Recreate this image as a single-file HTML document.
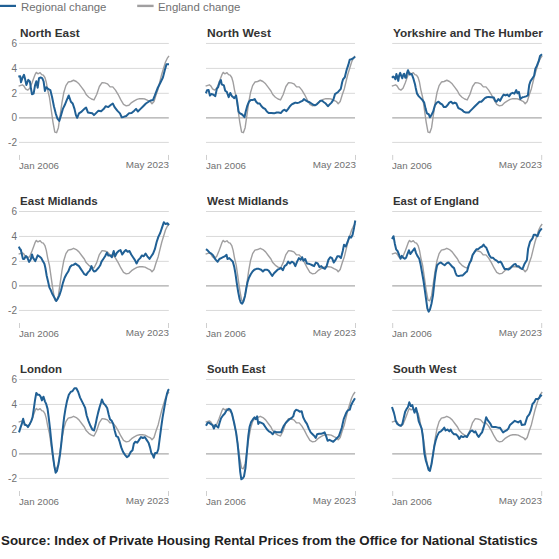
<!DOCTYPE html>
<html><head><meta charset="utf-8"><style>
html,body{margin:0;padding:0;background:#fff;width:559px;height:559px;overflow:hidden;position:relative;font-family:"Liberation Sans",sans-serif;}
svg{position:absolute;left:0;top:0}
.t{position:absolute;font-size:11px;font-weight:bold;color:#333;line-height:13px;white-space:nowrap;transform:scaleX(1.078);transform-origin:0 0}
.xl{position:absolute;font-size:9.4px;color:#707071;line-height:11px;white-space:nowrap;transform:scaleX(1.05);transform-origin:0 0}
.xj{transform:scaleX(1.035)}
.xr{width:100px;text-align:right;transform-origin:100% 0}
.yl{position:absolute;left:0;width:17px;text-align:right;font-size:10px;color:#707071;line-height:11px}
.lg{position:absolute;top:1px;font-size:11px;color:#707071;line-height:12px;white-space:nowrap;transform:scaleX(1.035);transform-origin:0 0}
.src{position:absolute;left:1px;top:534px;font-size:12.7px;font-weight:bold;color:#222;line-height:15px;white-space:nowrap;transform:scaleX(1.05);transform-origin:0 0}
</style></head><body>
<svg width="559" height="559" viewBox="0 0 559 559">
<line x1="0" y1="5.9" x2="16" y2="5.9" stroke="#206095" stroke-width="2.2"/>
<line x1="137.2" y1="5.9" x2="153.6" y2="5.9" stroke="#a09fa0" stroke-width="2.4"/>
<line x1="19.0" y1="43.45" x2="168.8" y2="43.45" stroke="#d9d9d9" stroke-width="1"/>
<line x1="19.0" y1="68.40" x2="168.8" y2="68.40" stroke="#d9d9d9" stroke-width="1"/>
<line x1="19.0" y1="93.30" x2="168.8" y2="93.30" stroke="#d9d9d9" stroke-width="1"/>
<line x1="19.0" y1="142.40" x2="168.8" y2="142.40" stroke="#d9d9d9" stroke-width="1"/>
<line x1="19.0" y1="117.90" x2="168.8" y2="117.90" stroke="#aaaaaa" stroke-width="1.3"/>
<line x1="19.5" y1="154.95" x2="19.5" y2="159.95" stroke="#cfcfcf" stroke-width="1"/>
<line x1="168.5" y1="154.95" x2="168.5" y2="159.95" stroke="#cfcfcf" stroke-width="1"/>
<polyline fill="none" stroke="#a09fa0" stroke-width="1.4" stroke-linejoin="round" points="18.60,86.10 22.40,84.80 24.00,86.10 25.60,88.80 27.70,90.10 29.80,88.30 32.00,82.90 33.60,78.60 35.20,74.30 36.30,72.40 37.90,73.80 40.10,72.70 41.70,74.60 43.30,75.10 44.90,77.50 46.30,82.30 47.70,90.05 49.43,97.25 51.22,109.77 53.01,122.29 54.80,132.13 56.59,132.67 58.38,127.66 60.17,115.13 61.96,102.61 63.75,92.77 65.90,85.62 68.22,82.04 70.91,81.50 73.59,80.25 76.28,81.50 78.96,83.83 81.65,87.41 84.33,90.98 86.12,94.56 88.81,97.25 91.49,99.03 94.00,99.93 96.68,94.56 99.37,86.51 102.05,82.58 104.74,82.93 107.42,83.83 110.11,86.87 112.79,86.87 115.48,90.09 118.16,94.56 120.85,99.93 123.53,104.40 126.22,105.83 128.90,105.30 131.59,102.61 134.27,100.82 136.96,99.39 139.64,98.68 142.33,98.68 145.01,99.03 147.70,100.47 150.38,101.72 152.00,103.75 154.00,101.45 156.00,94.95 158.20,88.65 160.10,80.75 161.80,73.95 163.50,68.45 165.50,61.95 167.20,58.45 169.00,55.95"/>
<polyline fill="none" stroke="#206095" stroke-width="2.0" stroke-linejoin="round" points="18.30,76.40 20.20,76.20 21.00,82.30 22.40,78.10 24.00,74.80 25.10,79.10 26.40,85.00 28.30,79.90 29.90,81.50 31.00,88.80 32.00,94.20 33.60,93.60 35.00,85.60 36.30,81.30 37.70,87.70 39.00,78.10 40.60,77.50 42.20,78.10 43.60,81.30 44.90,90.90 46.30,87.20 48.53,89.19 50.32,90.09 52.11,97.25 53.90,106.19 55.69,113.35 57.48,118.71 59.27,120.86 61.06,115.13 62.85,108.87 64.64,105.30 66.43,100.82 68.76,95.46 70.91,101.72 72.70,103.51 74.49,108.87 75.92,115.13 77.17,117.82 78.96,113.35 81.65,111.56 84.33,108.87 86.12,107.62 87.91,112.45 90.60,112.99 92.39,113.35 94.00,115.13 95.79,113.35 98.47,110.66 101.16,111.20 103.84,108.87 105.63,106.19 108.32,107.08 111.00,104.76 112.79,103.51 114.58,107.08 117.27,110.66 119.95,113.35 121.74,117.28 123.53,116.92 126.22,116.03 128.90,113.35 131.59,112.99 134.27,110.66 136.06,108.87 137.85,111.56 140.54,108.87 143.22,106.19 145.91,103.51 148.59,101.72 150.92,100.47 153.07,99.93 154.86,95.46 157.54,88.30 160.23,82.93 162.91,77.57 164.70,70.41 166.49,64.15 169.00,64.15"/>
<line x1="206.0" y1="43.45" x2="355.0" y2="43.45" stroke="#d9d9d9" stroke-width="1"/>
<line x1="206.0" y1="68.40" x2="355.0" y2="68.40" stroke="#d9d9d9" stroke-width="1"/>
<line x1="206.0" y1="93.30" x2="355.0" y2="93.30" stroke="#d9d9d9" stroke-width="1"/>
<line x1="206.0" y1="142.40" x2="355.0" y2="142.40" stroke="#d9d9d9" stroke-width="1"/>
<line x1="206.0" y1="117.90" x2="355.0" y2="117.90" stroke="#aaaaaa" stroke-width="1.3"/>
<line x1="206.5" y1="154.95" x2="206.5" y2="159.95" stroke="#cfcfcf" stroke-width="1"/>
<line x1="355.5" y1="154.95" x2="355.5" y2="159.95" stroke="#cfcfcf" stroke-width="1"/>
<polyline fill="none" stroke="#a09fa0" stroke-width="1.4" stroke-linejoin="round" points="205.60,86.10 209.38,84.80 210.97,86.10 212.56,88.80 214.65,90.10 216.74,88.30 218.92,82.90 220.51,78.60 222.10,74.30 223.20,72.40 224.79,73.80 226.97,72.70 228.56,74.60 230.15,75.10 231.74,77.50 233.14,82.30 234.53,90.05 236.25,97.25 238.03,109.77 239.81,122.29 241.59,132.13 243.36,132.67 245.14,127.66 246.92,115.13 248.70,102.61 250.48,92.77 252.62,85.62 254.92,82.04 257.60,81.50 260.26,80.25 262.94,81.50 265.60,83.83 268.27,87.41 270.94,90.98 272.72,94.56 275.39,97.25 278.06,99.03 280.55,99.93 283.21,94.56 285.89,86.51 288.55,82.58 291.23,82.93 293.89,83.83 296.56,86.87 299.23,86.87 301.90,90.09 304.57,94.56 307.24,99.93 309.90,104.40 312.58,105.83 315.24,105.30 317.91,102.61 320.58,100.82 323.25,99.39 325.92,98.68 328.59,98.68 331.25,99.03 333.93,100.47 336.59,101.72 338.20,103.75 340.19,101.45 342.18,94.95 344.36,88.65 346.25,80.75 347.94,73.95 349.63,68.45 351.62,61.95 353.31,58.45 355.10,55.95"/>
<polyline fill="none" stroke="#206095" stroke-width="2.0" stroke-linejoin="round" points="205.90,93.45 207.00,90.25 208.60,89.95 209.90,95.65 211.20,94.05 213.10,94.55 215.30,96.15 216.90,88.65 218.20,87.05 219.60,82.15 220.90,80.05 221.70,84.35 223.90,85.45 225.20,90.75 226.80,91.85 228.70,97.25 230.30,92.95 231.90,96.15 233.30,97.25 234.28,98.14 236.07,95.46 237.32,102.61 238.58,111.56 240.01,113.35 241.80,114.24 243.59,116.03 244.48,117.28 245.74,111.56 247.17,106.19 248.96,101.72 250.75,99.93 252.90,99.93 254.69,99.03 256.12,101.72 257.91,103.51 259.70,103.51 261.49,106.19 263.28,107.98 265.07,108.87 266.86,111.56 268.65,112.99 271.33,112.99 274.02,113.35 276.70,112.45 278.49,112.45 281.00,112.99 282.79,110.66 284.58,109.77 286.37,111.20 288.16,108.87 289.95,106.19 291.74,104.40 293.53,103.51 295.32,102.61 297.11,102.97 298.90,102.61 300.69,101.72 302.48,100.82 303.91,99.03 305.70,100.47 307.85,101.72 309.64,102.25 311.43,103.51 313.22,104.76 315.01,105.30 316.80,104.40 318.59,102.61 320.38,100.82 322.17,100.82 323.96,102.25 325.75,103.51 327.90,106.19 329.69,104.40 331.48,102.61 333.27,99.93 335.00,94.15 338.10,91.95 340.80,88.85 342.10,82.55 343.00,79.45 344.80,77.25 346.60,70.05 348.40,64.65 349.70,59.75 351.50,59.35 352.90,58.45 355.10,56.65"/>
<line x1="392.2" y1="43.45" x2="541.8" y2="43.45" stroke="#d9d9d9" stroke-width="1"/>
<line x1="392.2" y1="68.40" x2="541.8" y2="68.40" stroke="#d9d9d9" stroke-width="1"/>
<line x1="392.2" y1="93.30" x2="541.8" y2="93.30" stroke="#d9d9d9" stroke-width="1"/>
<line x1="392.2" y1="142.40" x2="541.8" y2="142.40" stroke="#d9d9d9" stroke-width="1"/>
<line x1="392.2" y1="117.90" x2="541.8" y2="117.90" stroke="#aaaaaa" stroke-width="1.3"/>
<line x1="392.7" y1="154.95" x2="392.7" y2="159.95" stroke="#cfcfcf" stroke-width="1"/>
<line x1="541.7" y1="154.95" x2="541.7" y2="159.95" stroke="#cfcfcf" stroke-width="1"/>
<polyline fill="none" stroke="#a09fa0" stroke-width="1.4" stroke-linejoin="round" points="391.80,86.10 395.60,84.80 397.20,86.10 398.80,88.80 400.90,90.10 403.00,88.30 405.20,82.90 406.80,78.60 408.40,74.30 409.50,72.40 411.10,73.80 413.30,72.70 414.90,74.60 416.50,75.10 418.10,77.50 419.50,82.30 420.90,90.05 422.63,97.25 424.42,109.77 426.21,122.29 428.00,132.13 429.79,132.67 431.58,127.66 433.37,115.13 435.16,102.61 436.95,92.77 439.10,85.62 441.42,82.04 444.11,81.50 446.79,80.25 449.48,81.50 452.16,83.83 454.85,87.41 457.53,90.98 459.32,94.56 462.01,97.25 464.69,99.03 467.20,99.93 469.88,94.56 472.57,86.51 475.25,82.58 477.94,82.93 480.62,83.83 483.31,86.87 485.99,86.87 488.68,90.09 491.36,94.56 494.05,99.93 496.73,104.40 499.42,105.83 502.10,105.30 504.79,102.61 507.47,100.82 510.16,99.39 512.84,98.68 515.53,98.68 518.21,99.03 520.90,100.47 523.58,101.72 525.20,103.75 527.20,101.45 529.20,94.95 531.40,88.65 533.30,80.75 535.00,73.95 536.70,68.45 538.70,61.95 540.40,58.45 542.20,55.95"/>
<polyline fill="none" stroke="#206095" stroke-width="2.0" stroke-linejoin="round" points="391.90,77.70 393.20,76.60 394.30,77.40 395.40,79.30 396.40,74.00 397.50,77.70 398.30,80.90 399.10,75.60 400.20,72.90 401.30,76.10 402.30,78.30 403.40,74.50 404.20,73.70 405.30,77.70 406.10,77.70 406.90,73.40 408.00,70.20 408.80,72.30 409.60,74.50 410.70,74.20 411.70,74.00 412.50,76.10 413.30,78.30 414.20,81.50 415.00,84.20 415.63,87.41 417.06,93.67 418.85,96.35 420.64,98.14 422.43,99.93 424.22,102.61 425.65,108.87 426.90,113.35 428.69,114.24 429.95,117.28 431.38,115.13 433.17,111.56 434.96,105.30 436.75,102.61 438.54,101.72 440.33,103.51 442.12,104.40 443.91,107.08 445.70,107.08 447.49,105.30 449.28,102.61 451.07,101.72 452.86,103.51 454.65,102.61 456.44,103.51 458.23,107.98 460.02,108.87 461.81,109.77 463.60,111.56 465.39,112.45 467.00,112.45 468.79,112.45 470.58,110.66 472.37,108.87 474.16,107.08 475.95,105.30 477.74,103.51 479.53,101.72 481.32,101.72 483.11,99.93 484.90,98.14 486.69,97.25 488.48,96.89 491.16,97.25 493.85,97.60 495.28,100.82 496.53,101.72 498.32,99.03 500.11,100.82 501.90,97.25 503.69,94.56 505.48,95.46 507.27,94.56 509.06,96.35 510.85,93.67 512.64,92.77 514.43,93.67 516.22,90.09 517.48,93.31 518.91,91.88 520.34,99.03 522.49,97.25 524.28,96.89 526.07,96.35 527.86,95.46 529.29,84.72 530.54,81.14 532.33,78.46 534.12,75.78 535.38,68.62 536.81,65.94 538.60,61.47 540.03,56.10 542.00,54.31"/>
<line x1="19.0" y1="211.50" x2="168.8" y2="211.50" stroke="#d9d9d9" stroke-width="1"/>
<line x1="19.0" y1="236.45" x2="168.8" y2="236.45" stroke="#d9d9d9" stroke-width="1"/>
<line x1="19.0" y1="261.35" x2="168.8" y2="261.35" stroke="#d9d9d9" stroke-width="1"/>
<line x1="19.0" y1="310.45" x2="168.8" y2="310.45" stroke="#d9d9d9" stroke-width="1"/>
<line x1="19.0" y1="285.95" x2="168.8" y2="285.95" stroke="#aaaaaa" stroke-width="1.3"/>
<line x1="19.5" y1="323.0" x2="19.5" y2="328.0" stroke="#cfcfcf" stroke-width="1"/>
<line x1="168.5" y1="323.0" x2="168.5" y2="328.0" stroke="#cfcfcf" stroke-width="1"/>
<polyline fill="none" stroke="#a09fa0" stroke-width="1.4" stroke-linejoin="round" points="18.60,254.15 22.40,252.85 24.00,254.15 25.60,256.85 27.70,258.15 29.80,256.35 32.00,250.95 33.60,246.65 35.20,242.35 36.30,240.45 37.90,241.85 40.10,240.75 41.70,242.65 43.30,243.15 44.90,245.55 46.30,250.35 47.70,258.10 49.43,265.30 51.22,277.82 53.01,290.34 54.80,300.18 56.59,300.72 58.38,295.71 60.17,283.18 61.96,270.66 63.75,260.82 65.90,253.67 68.22,250.09 70.91,249.55 73.59,248.30 76.28,249.55 78.96,251.88 81.65,255.46 84.33,259.03 86.12,262.61 88.81,265.30 91.49,267.08 94.00,267.98 96.68,262.61 99.37,254.56 102.05,250.63 104.74,250.98 107.42,251.88 110.11,254.92 112.79,254.92 115.48,258.14 118.16,262.61 120.85,267.98 123.53,272.45 126.22,273.88 128.90,273.35 131.59,270.66 134.27,268.87 136.96,267.44 139.64,266.73 142.33,266.73 145.01,267.08 147.70,268.52 150.38,269.77 152.00,271.80 154.00,269.50 156.00,263.00 158.20,256.70 160.10,248.80 161.80,242.00 163.50,236.50 165.50,230.00 167.20,226.50 169.00,224.00"/>
<polyline fill="none" stroke="#206095" stroke-width="2.0" stroke-linejoin="round" points="18.90,246.60 19.70,248.70 20.80,249.80 21.80,254.10 22.90,258.90 24.20,258.90 25.90,256.00 27.20,257.30 29.10,261.90 30.70,259.50 32.00,254.40 33.10,257.90 35.30,261.10 37.70,255.40 39.50,256.50 41.20,257.90 42.80,261.10 44.40,263.80 45.40,268.00 46.74,275.98 48.00,281.35 49.43,287.61 50.86,290.29 52.11,293.51 53.37,295.66 54.80,298.34 56.23,301.02 57.48,299.23 59.27,295.66 61.06,290.29 62.85,283.13 64.64,277.77 66.43,274.19 68.22,271.51 70.01,267.03 71.80,265.25 73.59,264.89 75.38,263.46 77.17,264.89 78.96,266.14 80.75,268.82 82.54,271.51 84.33,274.19 86.12,275.08 87.91,272.40 89.70,270.61 91.49,266.14 92.75,269.72 94.00,271.51 95.79,270.97 97.58,268.82 99.01,267.03 100.26,265.25 101.52,261.67 103.31,258.98 105.10,256.30 106.89,252.72 108.32,255.41 110.11,255.41 111.90,257.19 113.69,250.93 115.12,256.30 116.91,252.72 118.70,250.93 120.49,250.04 122.28,254.51 124.07,251.83 125.86,250.04 127.65,251.83 129.44,250.93 131.23,254.51 133.02,257.19 134.81,259.88 136.60,263.46 138.39,259.88 140.18,258.09 141.97,255.41 143.76,256.30 145.55,253.62 147.34,256.30 149.49,258.98 151.28,256.30 153.07,253.62 154.86,249.14 156.65,241.99 158.44,236.62 160.23,233.04 162.02,227.68 163.81,222.31 165.60,224.10 167.39,223.21 169.00,224.99"/>
<line x1="206.0" y1="211.50" x2="355.0" y2="211.50" stroke="#d9d9d9" stroke-width="1"/>
<line x1="206.0" y1="236.45" x2="355.0" y2="236.45" stroke="#d9d9d9" stroke-width="1"/>
<line x1="206.0" y1="261.35" x2="355.0" y2="261.35" stroke="#d9d9d9" stroke-width="1"/>
<line x1="206.0" y1="310.45" x2="355.0" y2="310.45" stroke="#d9d9d9" stroke-width="1"/>
<line x1="206.0" y1="285.95" x2="355.0" y2="285.95" stroke="#aaaaaa" stroke-width="1.3"/>
<line x1="206.5" y1="323.0" x2="206.5" y2="328.0" stroke="#cfcfcf" stroke-width="1"/>
<line x1="355.5" y1="323.0" x2="355.5" y2="328.0" stroke="#cfcfcf" stroke-width="1"/>
<polyline fill="none" stroke="#a09fa0" stroke-width="1.4" stroke-linejoin="round" points="205.60,254.15 209.38,252.85 210.97,254.15 212.56,256.85 214.65,258.15 216.74,256.35 218.92,250.95 220.51,246.65 222.10,242.35 223.20,240.45 224.79,241.85 226.97,240.75 228.56,242.65 230.15,243.15 231.74,245.55 233.14,250.35 234.53,258.10 236.25,265.30 238.03,277.82 239.81,290.34 241.59,300.18 243.36,300.72 245.14,295.71 246.92,283.18 248.70,270.66 250.48,260.82 252.62,253.67 254.92,250.09 257.60,249.55 260.26,248.30 262.94,249.55 265.60,251.88 268.27,255.46 270.94,259.03 272.72,262.61 275.39,265.30 278.06,267.08 280.55,267.98 283.21,262.61 285.89,254.56 288.55,250.63 291.23,250.98 293.89,251.88 296.56,254.92 299.23,254.92 301.90,258.14 304.57,262.61 307.24,267.98 309.90,272.45 312.58,273.88 315.24,273.35 317.91,270.66 320.58,268.87 323.25,267.44 325.92,266.73 328.59,266.73 331.25,267.08 333.93,268.52 336.59,269.77 338.20,271.80 340.19,269.50 342.18,263.00 344.36,256.70 346.25,248.80 347.94,242.00 349.63,236.50 351.62,230.00 353.31,226.50 355.10,224.00"/>
<polyline fill="none" stroke="#206095" stroke-width="2.0" stroke-linejoin="round" points="206.00,249.14 207.79,250.58 209.58,252.72 211.37,253.62 213.16,255.41 214.59,258.09 215.84,259.88 217.63,261.67 219.42,258.98 221.21,258.09 223.00,257.19 224.79,256.30 226.58,254.87 227.48,258.98 229.27,258.09 231.06,259.88 232.85,261.67 234.28,267.03 235.53,274.19 236.79,283.13 238.22,292.08 239.65,299.23 240.90,302.81 242.16,303.71 243.59,301.02 245.02,295.66 246.27,288.50 247.53,282.24 248.96,277.77 250.75,274.19 252.54,271.51 254.33,269.72 256.48,268.82 258.80,268.82 261.13,269.72 262.92,271.51 264.71,269.72 266.86,269.72 268.65,270.61 270.44,273.30 272.23,275.98 274.02,273.30 275.81,271.51 277.60,269.72 279.39,268.82 281.00,267.93 282.79,270.25 284.58,266.14 286.37,264.89 288.16,261.67 289.95,263.46 291.74,261.67 293.53,262.56 295.32,266.14 297.11,261.67 298.90,258.09 300.69,259.88 302.12,257.19 303.37,260.77 305.16,258.98 306.95,263.46 308.74,263.81 310.53,264.35 312.32,265.25 314.11,266.14 315.90,262.56 317.69,263.46 319.48,267.03 321.27,266.14 323.06,267.93 324.85,268.82 326.64,266.14 328.43,259.88 330.22,257.19 332.01,258.09 333.80,262.56 335.59,259.88 337.38,256.30 339.17,256.30 340.96,258.09 342.75,250.93 344.01,244.67 345.80,246.46 347.59,241.99 349.38,236.62 351.17,237.52 352.60,234.83 354.03,227.68 355.28,220.52"/>
<line x1="392.2" y1="211.50" x2="541.8" y2="211.50" stroke="#d9d9d9" stroke-width="1"/>
<line x1="392.2" y1="236.45" x2="541.8" y2="236.45" stroke="#d9d9d9" stroke-width="1"/>
<line x1="392.2" y1="261.35" x2="541.8" y2="261.35" stroke="#d9d9d9" stroke-width="1"/>
<line x1="392.2" y1="310.45" x2="541.8" y2="310.45" stroke="#d9d9d9" stroke-width="1"/>
<line x1="392.2" y1="285.95" x2="541.8" y2="285.95" stroke="#aaaaaa" stroke-width="1.3"/>
<line x1="392.7" y1="323.0" x2="392.7" y2="328.0" stroke="#cfcfcf" stroke-width="1"/>
<line x1="541.7" y1="323.0" x2="541.7" y2="328.0" stroke="#cfcfcf" stroke-width="1"/>
<polyline fill="none" stroke="#a09fa0" stroke-width="1.4" stroke-linejoin="round" points="391.80,254.15 395.60,252.85 397.20,254.15 398.80,256.85 400.90,258.15 403.00,256.35 405.20,250.95 406.80,246.65 408.40,242.35 409.50,240.45 411.10,241.85 413.30,240.75 414.90,242.65 416.50,243.15 418.10,245.55 419.50,250.35 420.90,258.10 422.63,265.30 424.42,277.82 426.21,290.34 428.00,300.18 429.79,300.72 431.58,295.71 433.37,283.18 435.16,270.66 436.95,260.82 439.10,253.67 441.42,250.09 444.11,249.55 446.79,248.30 449.48,249.55 452.16,251.88 454.85,255.46 457.53,259.03 459.32,262.61 462.01,265.30 464.69,267.08 467.20,267.98 469.88,262.61 472.57,254.56 475.25,250.63 477.94,250.98 480.62,251.88 483.31,254.92 485.99,254.92 488.68,258.14 491.36,262.61 494.05,267.98 496.73,272.45 499.42,273.88 502.10,273.35 504.79,270.66 507.47,268.87 510.16,267.44 512.84,266.73 515.53,266.73 518.21,267.08 520.90,268.52 523.58,269.77 525.20,271.80 527.20,269.50 529.20,263.00 531.40,256.70 533.30,248.80 535.00,242.00 536.70,236.50 538.70,230.00 540.40,226.50 542.20,224.00"/>
<polyline fill="none" stroke="#206095" stroke-width="2.0" stroke-linejoin="round" points="392.00,238.99 393.50,236.18 394.82,243.69 396.14,249.32 397.64,251.20 399.14,254.96 400.46,258.72 401.77,255.90 403.28,257.78 404.78,258.72 406.10,257.78 407.41,254.02 408.92,250.26 410.42,254.02 411.74,252.14 413.05,250.26 414.56,248.38 416.06,253.08 417.38,255.90 419.26,258.72 420.57,264.35 422.08,272.80 423.58,281.26 424.89,290.65 426.21,300.04 427.34,308.49 428.65,311.69 429.97,309.43 431.47,303.80 432.98,295.34 434.29,283.13 435.61,272.80 437.11,265.29 438.99,263.41 440.87,262.47 442.75,263.97 444.63,265.29 446.51,263.41 448.39,262.47 450.27,264.35 452.15,266.60 454.03,268.11 455.53,272.80 456.85,275.62 458.73,276.00 460.61,275.62 462.49,275.62 464.37,273.74 466.25,271.86 467.00,271.49 468.50,266.23 469.82,262.47 471.14,260.59 472.64,254.96 474.52,252.14 476.40,249.32 478.28,248.95 480.16,247.45 482.04,246.51 483.54,244.63 484.86,246.51 486.17,247.45 487.68,251.20 489.18,254.96 491.06,257.78 492.94,257.78 494.82,259.65 496.70,260.59 498.58,262.47 500.46,261.53 501.77,263.41 503.09,266.23 504.59,269.05 506.47,269.05 508.35,269.61 510.23,268.48 512.11,266.23 513.99,264.35 515.50,263.97 516.81,266.23 518.69,266.23 520.57,268.11 522.45,269.05 524.33,264.35 526.90,260.00 528.10,248.80 530.10,241.60 532.50,238.30 533.80,234.70 535.40,234.70 537.40,236.30 539.00,232.30 540.20,230.30 541.80,228.30"/>
<line x1="19.0" y1="379.50" x2="168.8" y2="379.50" stroke="#d9d9d9" stroke-width="1"/>
<line x1="19.0" y1="404.45" x2="168.8" y2="404.45" stroke="#d9d9d9" stroke-width="1"/>
<line x1="19.0" y1="429.35" x2="168.8" y2="429.35" stroke="#d9d9d9" stroke-width="1"/>
<line x1="19.0" y1="478.45" x2="168.8" y2="478.45" stroke="#d9d9d9" stroke-width="1"/>
<line x1="19.0" y1="453.95" x2="168.8" y2="453.95" stroke="#aaaaaa" stroke-width="1.3"/>
<line x1="19.5" y1="491.0" x2="19.5" y2="496.0" stroke="#cfcfcf" stroke-width="1"/>
<line x1="168.5" y1="491.0" x2="168.5" y2="496.0" stroke="#cfcfcf" stroke-width="1"/>
<polyline fill="none" stroke="#a09fa0" stroke-width="1.4" stroke-linejoin="round" points="18.60,422.15 22.40,420.85 24.00,422.15 25.60,424.85 27.70,426.15 29.80,424.35 32.00,418.95 33.60,414.65 35.20,410.35 36.30,408.45 37.90,409.85 40.10,408.75 41.70,410.65 43.30,411.15 44.90,413.55 46.30,418.35 47.70,426.10 49.43,433.30 51.22,445.82 53.01,458.34 54.80,468.18 56.59,468.72 58.38,463.71 60.17,451.18 61.96,438.66 63.75,428.82 65.90,421.67 68.22,418.09 70.91,417.55 73.59,416.30 76.28,417.55 78.96,419.88 81.65,423.46 84.33,427.03 86.12,430.61 88.81,433.30 91.49,435.08 94.00,435.98 96.68,430.61 99.37,422.56 102.05,418.63 104.74,418.98 107.42,419.88 110.11,422.92 112.79,422.92 115.48,426.14 118.16,430.61 120.85,435.98 123.53,440.45 126.22,441.88 128.90,441.35 131.59,438.66 134.27,436.87 136.96,435.44 139.64,434.73 142.33,434.73 145.01,435.08 147.70,436.52 150.38,437.77 152.00,439.80 154.00,437.50 156.00,431.00 158.20,424.70 160.10,416.80 161.80,410.00 163.50,404.50 165.50,398.00 167.20,394.50 169.00,392.00"/>
<polyline fill="none" stroke="#206095" stroke-width="2.0" stroke-linejoin="round" points="19.00,432.35 20.50,427.65 21.82,423.90 23.14,418.83 24.64,424.84 26.52,425.21 28.02,427.09 29.34,424.84 31.22,421.08 32.53,417.32 33.66,409.81 34.98,400.42 36.29,392.91 37.80,394.78 39.30,394.78 40.62,396.66 41.93,400.42 43.44,396.66 44.94,401.36 46.26,404.18 47.57,408.87 48.70,417.32 50.02,428.59 51.33,441.74 52.83,454.89 54.34,466.16 55.65,472.74 56.97,470.86 58.47,464.28 59.98,454.89 61.29,443.62 62.61,430.47 64.11,417.32 65.62,407.93 66.93,401.36 68.81,394.78 70.69,391.97 72.57,391.03 74.45,388.21 76.33,388.21 78.21,391.97 80.09,397.60 81.97,401.36 83.85,405.11 85.17,407.93 86.67,415.45 88.55,421.08 90.43,425.78 92.31,429.53 94.00,430.47 95.50,424.84 96.82,418.26 98.14,412.63 99.64,406.99 101.14,402.30 101.89,399.48 103.40,403.24 105.28,405.11 107.16,407.93 108.66,414.51 109.98,419.20 111.86,421.08 113.17,423.90 114.68,430.47 116.18,436.11 118.06,437.05 119.38,440.80 121.26,447.38 123.14,452.07 125.02,454.89 126.89,457.14 128.77,455.83 130.65,452.07 132.53,450.19 133.85,443.62 135.35,441.74 137.23,442.68 139.11,439.86 140.99,437.05 142.87,437.99 144.75,437.05 146.63,439.86 148.51,442.68 150.02,447.38 151.33,453.01 152.65,454.89 153.77,457.71 155.09,453.01 156.97,453.01 158.29,449.26 159.79,437.99 161.29,426.72 162.61,417.32 163.92,409.81 165.43,401.36 166.93,393.84 168.25,390.09 169.00,389.15"/>
<line x1="206.0" y1="379.50" x2="355.0" y2="379.50" stroke="#d9d9d9" stroke-width="1"/>
<line x1="206.0" y1="404.45" x2="355.0" y2="404.45" stroke="#d9d9d9" stroke-width="1"/>
<line x1="206.0" y1="429.35" x2="355.0" y2="429.35" stroke="#d9d9d9" stroke-width="1"/>
<line x1="206.0" y1="478.45" x2="355.0" y2="478.45" stroke="#d9d9d9" stroke-width="1"/>
<line x1="206.0" y1="453.95" x2="355.0" y2="453.95" stroke="#aaaaaa" stroke-width="1.3"/>
<line x1="206.5" y1="491.0" x2="206.5" y2="496.0" stroke="#cfcfcf" stroke-width="1"/>
<line x1="355.5" y1="491.0" x2="355.5" y2="496.0" stroke="#cfcfcf" stroke-width="1"/>
<polyline fill="none" stroke="#a09fa0" stroke-width="1.4" stroke-linejoin="round" points="205.60,422.15 209.38,420.85 210.97,422.15 212.56,424.85 214.65,426.15 216.74,424.35 218.92,418.95 220.51,414.65 222.10,410.35 223.20,408.45 224.79,409.85 226.97,408.75 228.56,410.65 230.15,411.15 231.74,413.55 233.14,418.35 234.53,426.10 236.25,433.30 238.03,445.82 239.81,458.34 241.59,468.18 243.36,468.72 245.14,463.71 246.92,451.18 248.70,438.66 250.48,428.82 252.62,421.67 254.92,418.09 257.60,417.55 260.26,416.30 262.94,417.55 265.60,419.88 268.27,423.46 270.94,427.03 272.72,430.61 275.39,433.30 278.06,435.08 280.55,435.98 283.21,430.61 285.89,422.56 288.55,418.63 291.23,418.98 293.89,419.88 296.56,422.92 299.23,422.92 301.90,426.14 304.57,430.61 307.24,435.98 309.90,440.45 312.58,441.88 315.24,441.35 317.91,438.66 320.58,436.87 323.25,435.44 325.92,434.73 328.59,434.73 331.25,435.08 333.93,436.52 336.59,437.77 338.20,439.80 340.19,437.50 342.18,431.00 344.36,424.70 346.25,416.80 347.94,410.00 349.63,404.50 351.62,398.00 353.31,394.50 355.10,392.00"/>
<polyline fill="none" stroke="#206095" stroke-width="2.0" stroke-linejoin="round" points="206.00,425.78 207.50,422.96 208.82,422.58 210.70,423.90 212.58,425.21 213.89,428.59 215.40,424.84 216.90,426.34 218.22,427.65 219.53,422.96 221.04,418.26 222.92,415.45 224.80,413.57 226.30,410.75 227.62,409.81 228.93,408.87 230.44,409.81 231.94,413.57 233.26,419.20 234.57,424.84 236.08,432.35 237.58,443.62 238.89,456.77 240.21,471.80 241.34,479.31 242.65,478.37 243.97,476.49 245.47,468.04 246.98,451.13 248.29,436.11 249.61,426.72 251.11,422.02 252.99,419.20 254.50,417.32 255.81,419.20 257.13,416.38 258.26,423.90 259.57,422.02 261.45,422.96 263.33,423.90 265.21,426.72 267.09,429.53 268.97,431.41 270.85,432.35 272.73,434.23 274.61,431.41 276.49,432.35 278.37,432.35 281.00,432.35 282.50,428.59 283.82,425.78 285.70,422.96 287.58,421.08 289.46,419.20 291.34,418.26 293.22,416.38 294.53,411.69 296.04,409.81 297.92,410.37 299.80,411.69 301.68,411.31 303.18,417.32 305.06,421.08 306.94,423.90 308.82,428.59 310.70,432.35 312.58,434.23 314.46,436.11 315.77,437.99 317.09,434.23 318.97,433.85 320.85,433.85 322.73,433.29 324.61,432.35 326.11,436.11 327.62,440.80 329.50,439.86 331.38,440.80 333.26,441.74 335.14,439.86 337.02,437.99 338.89,436.11 341.70,428.00 343.70,419.20 346.20,412.80 347.80,410.40 349.80,409.60 351.00,405.50 352.60,402.30 355.00,398.30"/>
<line x1="392.2" y1="379.50" x2="541.8" y2="379.50" stroke="#d9d9d9" stroke-width="1"/>
<line x1="392.2" y1="404.45" x2="541.8" y2="404.45" stroke="#d9d9d9" stroke-width="1"/>
<line x1="392.2" y1="429.35" x2="541.8" y2="429.35" stroke="#d9d9d9" stroke-width="1"/>
<line x1="392.2" y1="478.45" x2="541.8" y2="478.45" stroke="#d9d9d9" stroke-width="1"/>
<line x1="392.2" y1="453.95" x2="541.8" y2="453.95" stroke="#aaaaaa" stroke-width="1.3"/>
<line x1="392.7" y1="491.0" x2="392.7" y2="496.0" stroke="#cfcfcf" stroke-width="1"/>
<line x1="541.7" y1="491.0" x2="541.7" y2="496.0" stroke="#cfcfcf" stroke-width="1"/>
<polyline fill="none" stroke="#a09fa0" stroke-width="1.4" stroke-linejoin="round" points="391.80,422.15 395.60,420.85 397.20,422.15 398.80,424.85 400.90,426.15 403.00,424.35 405.20,418.95 406.80,414.65 408.40,410.35 409.50,408.45 411.10,409.85 413.30,408.75 414.90,410.65 416.50,411.15 418.10,413.55 419.50,418.35 420.90,426.10 422.63,433.30 424.42,445.82 426.21,458.34 428.00,468.18 429.79,468.72 431.58,463.71 433.37,451.18 435.16,438.66 436.95,428.82 439.10,421.67 441.42,418.09 444.11,417.55 446.79,416.30 449.48,417.55 452.16,419.88 454.85,423.46 457.53,427.03 459.32,430.61 462.01,433.30 464.69,435.08 467.20,435.98 469.88,430.61 472.57,422.56 475.25,418.63 477.94,418.98 480.62,419.88 483.31,422.92 485.99,422.92 488.68,426.14 491.36,430.61 494.05,435.98 496.73,440.45 499.42,441.88 502.10,441.35 504.79,438.66 507.47,436.87 510.16,435.44 512.84,434.73 515.53,434.73 518.21,435.08 520.90,436.52 523.58,437.77 525.20,439.80 527.20,437.50 529.20,431.00 531.40,424.70 533.30,416.80 535.00,410.00 536.70,404.50 538.70,398.00 540.40,394.50 542.20,392.00"/>
<polyline fill="none" stroke="#206095" stroke-width="2.0" stroke-linejoin="round" points="392.00,406.99 392.94,409.81 393.88,412.63 394.82,416.38 395.76,421.08 397.26,423.90 399.14,425.21 401.02,425.78 402.34,423.90 403.65,418.26 405.16,411.69 406.66,408.87 407.98,406.99 409.29,402.30 410.80,406.05 412.30,405.11 413.62,409.81 414.56,412.63 416.06,407.93 417.38,413.57 418.69,421.08 420.20,424.84 421.70,428.59 423.02,437.99 424.33,453.01 425.83,460.53 427.34,465.22 428.65,469.92 429.97,470.86 431.47,464.28 432.98,454.89 434.29,446.44 435.61,440.80 437.11,436.11 438.99,432.35 440.87,431.41 442.75,429.53 444.26,427.65 445.57,430.47 447.45,429.53 449.33,431.41 450.65,429.53 452.15,432.35 454.03,434.23 455.91,434.23 457.79,436.11 459.29,438.92 461.17,436.11 463.05,437.05 464.93,436.11 467.00,437.05 468.50,434.23 470.38,431.41 472.26,430.47 474.14,432.35 475.46,431.41 477.34,435.17 478.65,437.05 480.53,434.23 482.04,432.35 483.54,427.65 484.86,422.96 486.17,417.32 487.68,420.14 489.18,422.02 490.50,423.90 491.81,426.72 493.69,427.09 496.14,427.09 498.02,427.65 499.89,427.65 501.77,430.47 503.09,432.35 504.59,431.41 506.47,430.47 508.35,428.59 510.00,424.90 514.80,420.80 518.10,422.40 520.50,420.80 521.70,424.90 524.90,424.50 527.30,416.80 529.30,414.40 530.90,410.40 532.50,403.90 534.20,402.30 535.80,399.10 537.80,399.10 539.40,397.90 540.60,395.10 541.80,396.30"/>
</svg>
<div class="lg" style="left:20.8px">Regional change</div>
<div class="lg" style="left:158.1px">England change</div>
<div class="t" style="left:19.5px;top:26.9px;transform:scaleX(1.072)">North East</div>
<div class="xl xj" style="left:18.7px;top:159.5px">Jan 2006</div>
<div class="xl xr" style="left:69.0px;top:159.1px">May 2023</div>
<div class="yl" style="top:38.0px">6</div>
<div class="yl" style="top:62.9px">4</div>
<div class="yl" style="top:87.8px">2</div>
<div class="yl" style="top:112.4px">0</div>
<div class="yl" style="top:136.9px">-2</div>
<div class="t" style="left:206.5px;top:26.9px;transform:scaleX(1.094)">North West</div>
<div class="xl xj" style="left:205.7px;top:159.5px">Jan 2006</div>
<div class="xl xr" style="left:255.5px;top:159.1px">May 2023</div>
<div class="t" style="left:392.7px;top:26.9px;transform:scaleX(1.072)">Yorkshire and The Humber</div>
<div class="xl xj" style="left:391.9px;top:159.5px">Jan 2006</div>
<div class="xl xr" style="left:442.0px;top:159.1px">May 2023</div>
<div class="t" style="left:19.5px;top:195.0px;transform:scaleX(1.051)">East Midlands</div>
<div class="xl xj" style="left:18.7px;top:327.5px">Jan 2006</div>
<div class="xl xr" style="left:69.0px;top:327.1px">May 2023</div>
<div class="yl" style="top:206.0px">6</div>
<div class="yl" style="top:230.9px">4</div>
<div class="yl" style="top:255.9px">2</div>
<div class="yl" style="top:280.4px">0</div>
<div class="yl" style="top:304.9px">-2</div>
<div class="t" style="left:206.5px;top:195.0px;transform:scaleX(1.061)">West Midlands</div>
<div class="xl xj" style="left:205.7px;top:327.5px">Jan 2006</div>
<div class="xl xr" style="left:255.5px;top:327.1px">May 2023</div>
<div class="t" style="left:392.7px;top:195.0px;transform:scaleX(1.035)">East of England</div>
<div class="xl xj" style="left:391.9px;top:327.5px">Jan 2006</div>
<div class="xl xr" style="left:442.0px;top:327.1px">May 2023</div>
<div class="t" style="left:19.5px;top:363.0px;transform:scaleX(1.042)">London</div>
<div class="xl xj" style="left:18.7px;top:495.5px">Jan 2006</div>
<div class="xl xr" style="left:69.0px;top:495.1px">May 2023</div>
<div class="yl" style="top:374.0px">6</div>
<div class="yl" style="top:398.9px">4</div>
<div class="yl" style="top:423.9px">2</div>
<div class="yl" style="top:448.4px">0</div>
<div class="yl" style="top:472.9px">-2</div>
<div class="t" style="left:206.5px;top:363.0px;transform:scaleX(1.017)">South East</div>
<div class="xl xj" style="left:205.7px;top:495.5px">Jan 2006</div>
<div class="xl xr" style="left:255.5px;top:495.1px">May 2023</div>
<div class="t" style="left:392.7px;top:363.0px;transform:scaleX(1.053)">South West</div>
<div class="xl xj" style="left:391.9px;top:495.5px">Jan 2006</div>
<div class="xl xr" style="left:442.0px;top:495.1px">May 2023</div>
<div class="src">Source: Index of Private Housing Rental Prices from the Office for National Statistics</div>
</body></html>
